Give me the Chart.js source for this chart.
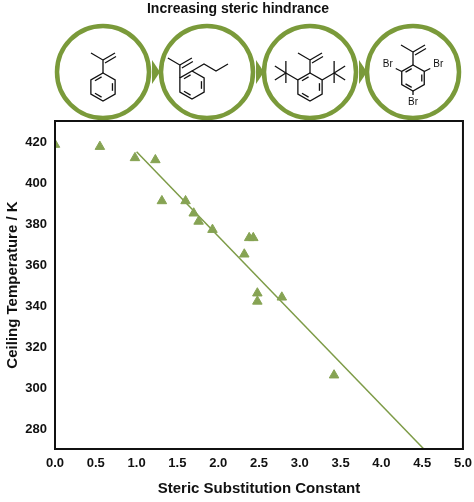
<!DOCTYPE html>
<html>
<head>
<meta charset="utf-8">
<script src="https://cdn.jsdelivr.net/npm/chart.js@4/dist/chart.umd.min.js"></script>
<style>
  html, body { margin: 0; padding: 0; background: #fff; }
  #wrap { width: 474px; height: 502px; position: relative; }
</style>
</head>
<body>
<div id="wrap"><canvas id="chart" width="474" height="502"></canvas></div>
<script>
// steric substitution constant vs ceiling temperature
const stericX = [0.0, 0.55, 0.98, 1.23, 1.31, 1.6, 1.7, 1.76, 1.93, 2.32, 2.38, 2.43, 2.48, 2.48, 2.78, 3.42];
const ceilingT = [419, 418, 412.5, 411.5, 391.5, 391.5, 385.5, 381.5, 377.5, 365.5, 373.5, 373.5, 346.5, 342.5, 344.5, 306.5];
const fitX = [1.0, 4.52];
const fitY = [415.5, 270.5];
const xTicks = [0, 0.5, 1, 1.5, 2, 2.5, 3, 3.5, 4, 4.5, 5];
const yTicks = [280, 300, 320, 340, 360, 380, 400, 420];

const green = '#7a9a3a';
const markGreen = '#86a353';

// the molecule pictures above the plot
function ring(ctx, cx, cy, L, doubles) {
  const pts = [];
  for (let i = 0; i < 6; i++) {
    const a = (-90 + 60 * i) * Math.PI / 180;
    pts.push([cx + L * Math.cos(a), cy + L * Math.sin(a)]);
  }
  ctx.beginPath();
  pts.forEach((p, i) => i ? ctx.lineTo(p[0], p[1]) : ctx.moveTo(p[0], p[1]));
  ctx.closePath();
  ctx.stroke();
  doubles.forEach(i => {
    const a = pts[i], b = pts[(i + 1) % 6];
    const s = 0.22;
    const ia = [a[0] + (cx - a[0]) * s, a[1] + (cy - a[1]) * s];
    const ib = [b[0] + (cx - b[0]) * s, b[1] + (cy - b[1]) * s];
    const ma = [ia[0] + (ib[0] - ia[0]) * 0.15, ia[1] + (ib[1] - ia[1]) * 0.15];
    const mb = [ia[0] + (ib[0] - ia[0]) * 0.85, ia[1] + (ib[1] - ia[1]) * 0.85];
    line(ctx, [ma, mb]);
  });
  return pts;
}
function line(ctx, pts) {
  ctx.beginPath();
  pts.forEach((p, i) => i ? ctx.lineTo(p[0], p[1]) : ctx.moveTo(p[0], p[1]));
  ctx.stroke();
}
function propenyl(ctx, x, y) {
  const c = [x, y - 13];
  line(ctx, [[x, y], c, [x - 12, y - 20]]);
  line(ctx, [c, [x + 12, y - 20]]);
  line(ctx, [[x + 2, y - 10], [x + 13, y - 16.5]]);
}
function tbu(ctx, x, y, dir) {
  const c = [x + dir * 12, y - 7];
  line(ctx, [[x, y], c]);
  line(ctx, [[c[0], c[1] - 12], [c[0], c[1] + 10]]);
  line(ctx, [c, [c[0] + dir * 11, c[1] + 7]]);
  line(ctx, [c, [c[0] + dir * 11, c[1] - 7]]);
}

const headerPlugin = {
  id: 'header',
  afterDraw(chart) {
    const ctx = chart.ctx;
    ctx.save();
    ctx.fillStyle = '#111';
    ctx.font = 'bold 14px "Liberation Sans", Arial, sans-serif';
    ctx.textAlign = 'center';
    ctx.textBaseline = 'middle';
    ctx.fillText('Increasing steric hindrance', 238, 9);

    const centers = [103, 207, 310, 413];
    // chevrons between circles
    ctx.fillStyle = green;
    [155, 259, 362].forEach(x => {
      ctx.beginPath();
      ctx.moveTo(x - 3, 60); ctx.lineTo(x + 5, 72); ctx.lineTo(x - 3, 84);
      ctx.closePath(); ctx.fill();
    });
    ctx.strokeStyle = green;
    ctx.lineWidth = 4.5;
    centers.forEach(cx => {
      ctx.beginPath(); ctx.arc(cx, 72, 46, 0, Math.PI * 2); ctx.stroke();
    });

    ctx.strokeStyle = '#111';
    ctx.lineWidth = 1.3;
    // alpha-methylstyrene
    let p = ring(ctx, 103, 87, 14, [1, 3, 5]);
    propenyl(ctx, p[0][0], p[0][1]);
    // ortho propyl
    p = ring(ctx, 192, 85, 14, [1, 3, 5]);
    propenyl(ctx, p[5][0], p[5][1]);
    line(ctx, [p[0], [p[0][0] + 12, p[0][1] - 7], [p[0][0] + 24, p[0][1]], [p[0][0] + 36, p[0][1] - 7]]);
    // di-tert-butyl
    p = ring(ctx, 310, 87, 14, [1, 3, 5]);
    propenyl(ctx, p[0][0], p[0][1]);
    tbu(ctx, p[5][0], p[5][1], -1);
    tbu(ctx, p[1][0], p[1][1], 1);
    // tribromo
    p = ring(ctx, 413, 78, 13, [1, 3, 5]);
    propenyl(ctx, p[0][0], p[0][1]);
    ctx.fillStyle = '#111';
    ctx.font = '10px "Liberation Sans", Arial, sans-serif';
    line(ctx, [p[5], [p[5][0] - 6, p[5][1] - 3]]);
    ctx.fillText('Br', p[5][0] - 14, p[5][1] - 7);
    line(ctx, [p[1], [p[1][0] + 6, p[1][1] - 3]]);
    ctx.fillText('Br', p[1][0] + 14, p[1][1] - 7);
    line(ctx, [p[3], [p[3][0], p[3][1] + 4]]);
    ctx.fillText('Br', p[3][0], p[3][1] + 11);
    ctx.restore();
  }
};

const frame = {
  id: 'frame',
  afterDraw(chart) {
    const a = chart.chartArea, ctx = chart.ctx;
    ctx.save();
    ctx.strokeStyle = '#111';
    ctx.lineWidth = 2;
    ctx.strokeRect(a.left, a.top, a.right - a.left, a.bottom - a.top);
    ctx.restore();
  }
};

const tickFont = { family: '"Liberation Sans", Arial, sans-serif', size: 13, weight: 'bold' };
const titleFont = { family: '"Liberation Sans", Arial, sans-serif', size: 15, weight: 'bold' };

new Chart(document.getElementById('chart'), {
  type: 'scatter',
  data: {
    datasets: [
      {
        data: stericX.map((x, i) => ({ x: x, y: ceilingT[i] })),
        pointStyle: 'triangle',
        pointRadius: 5.5,
        backgroundColor: markGreen,
        borderColor: markGreen,
        borderWidth: 1
      },
      {
        type: 'line',
        data: fitX.map((x, i) => ({ x: x, y: fitY[i] })),
        borderColor: '#7d9b47',
        borderWidth: 1.5,
        pointRadius: 0
      }
    ]
  },
  options: {
    responsive: false,
    animation: false,
    layout: { padding: { top: 121, right: 11, left: 0, bottom: 0 } },
    plugins: { legend: { display: false }, tooltip: { enabled: false } },
    scales: {
      x: {
        type: 'linear', min: 0, max: 5,
        afterBuildTicks: s => { s.ticks = xTicks.map(v => ({ value: v })); },
        afterFit: s => { s.height = 53; },
        grid: { display: false, drawTicks: true, tickLength: 5, color: '#111' },
        border: { color: '#111', width: 2 },
        ticks: { color: '#111', font: tickFont, padding: 2, maxRotation: 0, callback: v => v.toFixed(1) },
        title: { display: true, text: 'Steric Substitution Constant', color: '#111', font: titleFont, padding: { top: 8 } }
      },
      y: {
        type: 'linear', min: 270.5, max: 430.5,
        afterBuildTicks: s => { s.ticks = yTicks.map(v => ({ value: v })); },
        afterFit: s => { s.width = 55; },
        grid: { display: false, drawTicks: false },
        border: { color: '#111', width: 2 },
        ticks: { color: '#111', font: tickFont, padding: 8 },
        title: { display: true, text: 'Ceiling Temperature / K', color: '#111', font: titleFont, padding: { bottom: 0 } }
      }
    }
  },
  plugins: [headerPlugin, frame]
});
</script>
</body>
</html>
